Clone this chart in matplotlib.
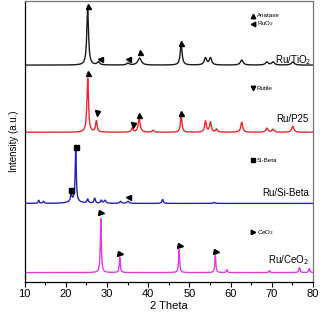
"""
    XRD patterns, stacked
"""
import matplotlib.pyplot as plt
import numpy as np

plt.rcParams['font.family'] = ['Liberation Sans', 'DejaVu Sans']

# peak lists (2 theta, height, fwhm), y in px-like units
tio2_pos = [25.3, 27.9, 35.1, 37.9, 48.0, 53.9, 55.1, 62.7, 68.8, 70.3, 75.1]
tio2_hgt = [57, 3, 2, 7, 21, 7, 7, 5, 3, 3, 3]
tio2_wid = [0.5, 0.7, 0.7, 1.0, 0.55, 0.7, 0.7, 0.8, 0.8, 0.8, 0.9]
tio2_base = 216

p25_pos = [25.3, 27.4, 36.1, 37.8, 41.2, 48.0, 53.9, 55.1, 56.6, 62.7, 68.8, 70.3, 75.1]
p25_hgt = [54, 11, 4, 13, 2, 16, 11, 10, 3, 10, 4, 3, 6]
p25_wid = [0.45, 0.45, 0.5, 0.6, 0.5, 0.45, 0.5, 0.5, 0.5, 0.55, 0.6, 0.6, 0.6]
p25_base = 149

sib_pos = [13.4, 14.6, 21.3, 22.4, 22.0, 25.3, 27.0, 28.6, 29.5, 33.3, 35.1, 43.5, 56.0]
sib_hgt = [3, 2, 9, 54, 3, 4, 5, 3, 3, 2, 2, 4, 1]
sib_wid = [0.3, 0.4, 0.3, 0.3, 2.5, 0.4, 0.4, 0.4, 0.5, 0.5, 0.6, 0.4, 0.5]
sib_base = 78

ceo_pos = [28.5, 33.1, 47.5, 56.3, 59.1, 69.4, 76.7, 79.1]
ceo_hgt = [54, 15, 23, 17, 3, 2, 5, 4]
ceo_wid = [0.3, 0.3, 0.3, 0.3, 0.3, 0.3, 0.35, 0.35]
ceo_base = 9

# phase markers: (2 theta, y)
tio2_anatase = ([25.3, 38.0, 48.0], [275, 229, 238])
tio2_ruo2 = ([28.2, 35.2], [222, 222])
p25_anatase = ([25.3, 37.8, 48.0], [208, 166, 168])
p25_rutile = ([27.6, 36.3], [168, 156])
sib_beta = ([22.4, 21.2], [134, 91])
sib_ruo2 = ([35.2], [84])
ceo_ceo2 = ([28.5, 33.2, 47.6, 56.5], [68, 28, 36, 30])

two_theta = np.linspace(10, 80, 3000)


def pattern(pos, hgt, wid, base):
    y = np.full_like(two_theta, base, dtype=float)
    for p, h, w in zip(pos, hgt, wid):
        y += h / (1 + ((two_theta - p) / (w / 2)) ** 2)
    return y


fig = plt.figure(figsize=(3.2, 3.2), dpi=100)
ax = fig.add_axes([0.077, 0.12, 0.901, 0.877])

ax.plot(two_theta, pattern(tio2_pos, tio2_hgt, tio2_wid, tio2_base), color='#1a1a1a', lw=1.0)
ax.plot(two_theta, pattern(p25_pos, p25_hgt, p25_wid, p25_base), color='#e8262b', lw=1.0)
ax.plot(two_theta, pattern(sib_pos, sib_hgt, sib_wid, sib_base), color='#2424b0', lw=1.0)
ax.plot(two_theta, pattern(ceo_pos, ceo_hgt, ceo_wid, ceo_base), color='#e03ce0', lw=1.0)

ms = 3.6
for (xs, ys), m in [(tio2_anatase, '^'), (tio2_ruo2, '<'), (p25_anatase, '^'),
                    (p25_rutile, 'v'), (sib_beta, 's'), (sib_ruo2, '<'), (ceo_ceo2, '>')]:
    ax.plot(xs, ys, m, color='black', ms=ms, ls='none')

# phase keys
key_x = 65.4
for y, m, txt in [(265, '^', 'Anatase'), (257, '<', 'RuO$_2$'), (193, 'v', 'Rutile'),
                  (121, 's', 'Si-Beta'), (49, '>', 'CeO$_2$')]:
    ax.plot([key_x], [y], m, color='black', ms=3.2)
    ax.text(key_x + 0.9, y, txt, fontsize=4.5, va='center', ha='left')

# sample labels
ax.text(79.6, 221, 'Ru/TiO$_2$', fontsize=7, ha='right', va='center')
ax.text(79.0, 162, 'Ru/P25', fontsize=7, ha='right', va='center')
ax.text(79.0, 88, 'Ru/Si-Beta', fontsize=7, ha='right', va='center')
ax.text(79.0, 21, 'Ru/CeO$_2$', fontsize=7, ha='right', va='center')

ax.set_xlim(10, 80)
ax.set_ylim(0, 280)
ax.set_xticks(np.arange(10, 81, 10))
ax.set_xticks(np.arange(15, 80, 10), minor=True)
ax.set_yticks([])
ax.tick_params(axis='x', direction='out', length=3.5, width=0.8, labelsize=8, pad=2)
ax.tick_params(axis='x', which='minor', direction='out', length=2, width=0.8)
ax.set_xlabel('2 Theta', fontsize=8, labelpad=1)
ax.set_ylabel('Intensity (a.u.)', fontsize=7, labelpad=4)
for s in ['top', 'right']:
    ax.spines[s].set_color('#777777')
for s in ax.spines.values():
    s.set_linewidth(0.9)

plt.savefig('out.png', dpi=100)
